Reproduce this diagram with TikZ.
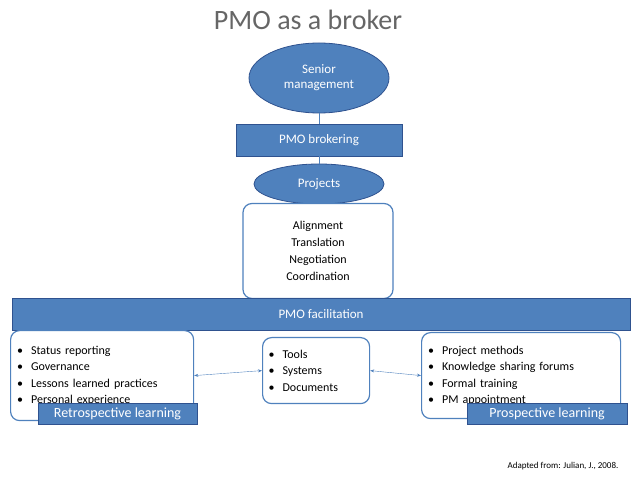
\documentclass[tikz,border=0pt]{standalone}
\usepackage{fontspec}
\setmainfont{Carlito}
\usetikzlibrary{shapes.geometric,arrows.meta}
\definecolor{pmoblue}{RGB}{79,129,189}
\definecolor{pmoedge}{RGB}{47,82,143}
\begin{document}
\begin{tikzpicture}[x=1pt,y=-1pt]
    \tikzset{
        blob/.style={ellipse,draw=pmoedge,fill=pmoblue,thick,text=white,font=\fontsize{13}{15}\selectfont,align=center,inner sep=0pt},
        bar/.style={draw=pmoedge,fill=pmoblue,thick,text=white,font=\fontsize{13}{15}\selectfont,inner sep=0pt},
        card/.style={draw=pmoblue,very thick,rounded corners=9pt,fill=white,align=left,inner sep=0pt,font=\fontsize{12}{16.5}\selectfont},
        tag/.style={bar,font=\fontsize{14}{16}\selectfont},
        link/.style={pmoblue,thin,{Stealth[length=4pt]}-{Stealth[length=4pt]}}
    }
    \useasboundingbox (0,0) rectangle (638,478);
    \node[text=gray!80!black,font=\fontsize{28}{30}\selectfont] (title) at (308,20) {PMO as a broker};
    \node[blob,minimum width=140pt,minimum height=70pt] (senior) at (319,78) {Senior\\management};
    \node[bar,minimum width=166pt,minimum height=32pt] (broker) at (319,140) {PMO brokering};
    \node[blob,minimum width=130pt,minimum height=40pt] (proj) at (319,184) {Projects};
    \node[card,align=center,minimum width=150pt,minimum height=95pt,font=\fontsize{12}{17}\selectfont] (roles) at (318,251) {Alignment\\Translation\\Negotiation\\Coordination};
    \node[bar,minimum width=618pt,minimum height=32pt] (facil) at (321,314) {PMO facilitation};
    \node[card,minimum width=183pt,minimum height=90pt,anchor=north west,text width=170pt] (retro) at (10,330)
        {\raisebox{0pt}{\textbullet}\ \ Status reporting\\\textbullet\ \ Governance\\\textbullet\ \ Lessons learned practices\\\textbullet\ \ Personal experience};
    \node[card,minimum width=107pt,minimum height=66pt,anchor=north west,text width=95pt] (tools) at (262,337)
        {\textbullet\ \ Tools\\\textbullet\ \ Systems\\\textbullet\ \ Documents};
    \node[card,minimum width=199pt,minimum height=86pt,anchor=north west,text width=186pt] (prosp) at (421,332)
        {\textbullet\ \ Project methods\\\textbullet\ \ Knowledge sharing forums\\\textbullet\ \ Formal training\\\textbullet\ \ PM appointment};
    \node[tag,minimum width=159pt,minimum height=21pt] (retrotag) at (117.5,413.5) {Retrospective learning};
    \node[tag,minimum width=160pt,minimum height=21pt] (prosptag) at (547,413.5) {Prospective learning};
    \node[font=\fontsize{9}{10}\selectfont] (src) at (563,466) {Adapted from: Julian, J., 2008.};
    \draw[pmoblue] (senior) -- (broker);
    \draw[pmoblue] (broker) -- (proj);
    \draw[link] (retro.east) -- (tools.west);
    \draw[link] (tools.east) -- (prosp.west);
\end{tikzpicture}
\end{document}
